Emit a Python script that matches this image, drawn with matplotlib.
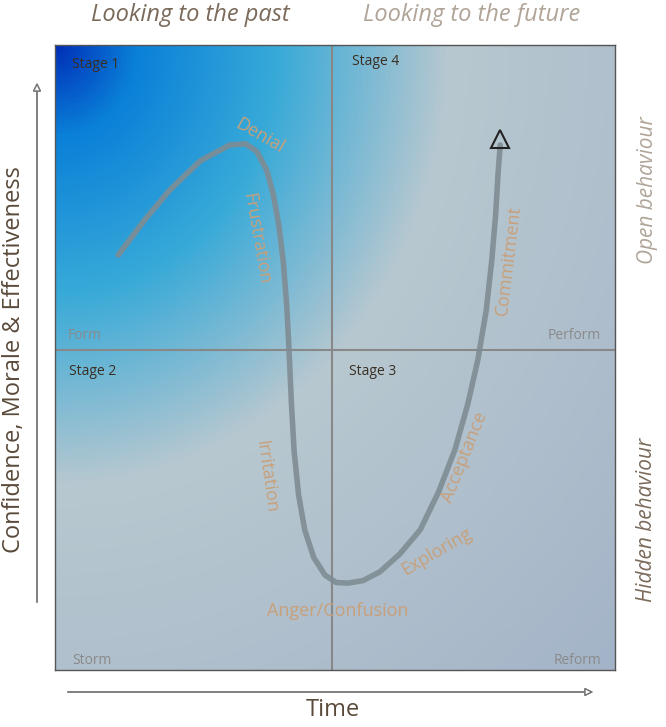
import matplotlib.pyplot as plt
import numpy as np
from matplotlib.colors import LinearSegmentedColormap

plt.rcParams['font.family'] = ['Open Sans', 'DejaVu Sans']

# change curve (x: time 0-10, y: confidence 0-10)
curveX = [1.13, 1.6, 2.05, 2.6, 3.12, 3.4, 3.6, 3.78, 3.9, 4.0, 4.08, 4.14, 4.18, 4.22, 4.27,
          4.35, 4.46, 4.62, 4.82, 5.02, 5.23, 5.5, 5.8, 6.15, 6.52, 6.85, 7.14, 7.37, 7.55,
          7.7, 7.8, 7.87, 7.91, 7.95]
curveY = [6.64, 7.2, 7.68, 8.15, 8.4, 8.42, 8.3, 8.0, 7.6, 7.1, 6.5, 5.8, 5.1, 4.3, 3.5,
          2.8, 2.24, 1.8, 1.52, 1.4, 1.39, 1.43, 1.57, 1.85, 2.24, 2.85, 3.52, 4.25, 4.96,
          5.75, 6.56, 7.3, 7.92, 8.4]

stageLabels = ["Stage 1", "Stage 2", "Stage 3", "Stage 4"]
cornerLabels = ["Form", "Storm", "Reform", "Perform"]
emotions = ["Denial", "Frustration", "Irritation", "Anger/Confusion", "Exploring", "Acceptance", "Commitment"]

fig = plt.figure(figsize=(6.66, 7.27), dpi=100)
ax = fig.add_axes([55/666, 57/727, 560/666, 625/727])

# radial gradient from the top-left corner
gx, gy = np.meshgrid(np.linspace(0, 1, 300), np.linspace(0, 1, 300))
t = np.clip(np.sqrt(gx**2 + gy**2) / np.sqrt(2), 0, 1)
cmap = LinearSegmentedColormap.from_list(
    "bg", [(0, "#0030b8"), (0.1, "#0a80d8"), (0.28, "#38aad8"), (0.5, "#b8c8d0"), (1, "#a4b4c8")])
ax.imshow(t, cmap=cmap, extent=[0, 10, 0, 10], aspect='auto', origin='upper', zorder=0)
ax.set_xlim(0, 10)
ax.set_ylim(0, 10)
ax.set_xticks([])
ax.set_yticks([])
for s in ax.spines.values():
    s.set_color("#555555")
    s.set_linewidth(1)
ax.axvline(4.95, color="#888888", lw=1.5)
ax.axhline(5.12, color="#888888", lw=1.5)

ax.plot(curveX, curveY, color="#7f8c94", lw=4, solid_capstyle='round', alpha=0.9, zorder=3)
ax.plot([curveX[-1]], [curveY[-1] + 0.1], marker='^', ms=13, mfc='none', mec='#222222', mew=1.5, zorder=4)

sc = "#3a2e22"
ax.text(0.3, 9.8, stageLabels[0], color=sc, fontsize=10, va='top')
ax.text(0.25, 4.9, stageLabels[1], color=sc, fontsize=10, va='top')
ax.text(5.25, 4.9, stageLabels[2], color=sc, fontsize=10, va='top')
ax.text(5.3, 9.85, stageLabels[3], color=sc, fontsize=10, va='top')
cc = "#8a8a8a"
ax.text(0.22, 5.3, cornerLabels[0], color=cc, fontsize=10)
ax.text(0.3, 0.1, cornerLabels[1], color=cc, fontsize=10)
ax.text(9.75, 0.1, cornerLabels[2], color=cc, fontsize=10, ha='right')
ax.text(9.75, 5.3, cornerLabels[3], color=cc, fontsize=10, ha='right')

ec = "#c8a07a"
ax.text(3.65, 8.55, emotions[0], color=ec, fontsize=13, rotation=-30, ha='center', va='center')
ax.text(3.6, 6.9, emotions[1], color=ec, fontsize=13, rotation=-80, ha='center', va='center')
ax.text(3.77, 3.1, emotions[2], color=ec, fontsize=13, rotation=-82, ha='center', va='center')
ax.text(5.05, 0.95, emotions[3], color=ec, fontsize=13, ha='center', va='center')
ax.text(6.82, 1.9, emotions[4], color=ec, fontsize=13, rotation=30, ha='center', va='center')
ax.text(7.32, 3.4, emotions[5], color=ec, fontsize=13, rotation=68, ha='center', va='center')
ax.text(8.1, 6.55, emotions[6], color=ec, fontsize=13, rotation=83, ha='center', va='center')

fig.text(190/666, 1 - 15/727, "Looking to the past", color="#7a6a5a", fontsize=17, style='italic', ha='center', va='center')
fig.text(472/666, 1 - 15/727, "Looking to the future", color="#b0a498", fontsize=17, style='italic', ha='center', va='center')
fig.text(647/666, 1 - 190/727, "Open behaviour", color="#b0a498", fontsize=15, style='italic', rotation=90, ha='center', va='center')
fig.text(647/666, 1 - 520/727, "Hidden behaviour", color="#7a6a5a", fontsize=15, style='italic', rotation=90, ha='center', va='center')
fig.text(14/666, 1 - 360/727, "Confidence, Morale & Effectiveness", color="#5a4a3a", fontsize=17, rotation=90, ha='center', va='center')
fig.text(333/666, 1 - 710/727, "Time", color="#5a4a3a", fontsize=17, ha='center', va='center')

arrowProps = dict(arrowstyle='-|>', color='#777777', lw=1, mutation_scale=12, fc='white')
fig.add_artist(plt.annotate("", xy=(37/666, 1 - 80/727), xytext=(37/666, 1 - 605/727),
                            xycoords='figure fraction', arrowprops=arrowProps))
fig.add_artist(plt.annotate("", xy=(596/666, 1 - 692/727), xytext=(65/666, 1 - 692/727),
                            xycoords='figure fraction', arrowprops=arrowProps))

fig.savefig("out.png", dpi=100)
